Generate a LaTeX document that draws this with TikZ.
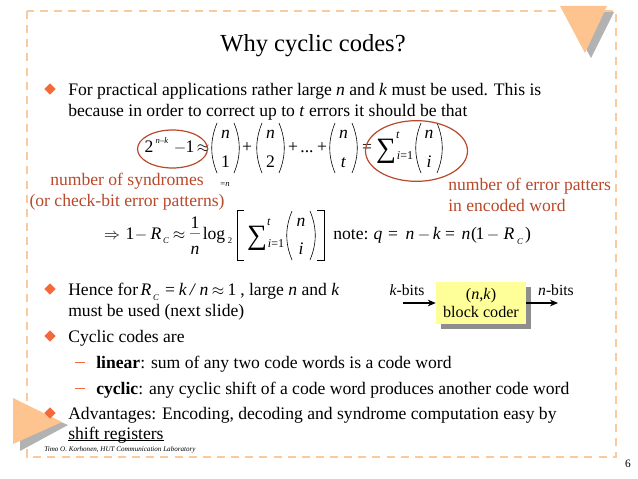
\documentclass[tikz,border=0pt]{standalone}
\usepackage{fontspec}
\setmainfont{Liberation Serif}
\usetikzlibrary{shapes.geometric,arrows.meta}
\definecolor{framecol}{HTML}{FBC99B}
\definecolor{tricol}{HTML}{FDC48F}
\definecolor{shadecol}{HTML}{B2B2B2}
\definecolor{bulletcol}{HTML}{F4683A}
\definecolor{notecol}{HTML}{B8492B}
\definecolor{boxcol}{HTML}{FFFF99}
\tikzset{
  body/.style={anchor=base west,inner sep=0pt,font=\fontsize{13.2pt}{15pt}\selectfont},
  note/.style={body,text=notecol},
  sym/.style={anchor=base,inner sep=0pt,font=\fontsize{13.2pt}{15pt}\selectfont},
  small/.style={anchor=base,inner sep=0pt,font=\fontsize{6.5pt}{8pt}\selectfont},
  mid/.style={anchor=base,inner sep=0pt,font=\fontsize{9pt}{10pt}\selectfont},
  big/.style={anchor=base,inner sep=0pt,font=\fontsize{21pt}{24pt}\selectfont},
  bullet/.style={diamond,fill=bulletcol,inner sep=0pt,minimum size=8.5pt},
  ring/.style={ellipse,draw=notecol,line width=0.9pt,inner sep=0pt},
  flow/.style={-{Stealth[length=6pt,width=5pt]},line width=0.8pt},
  paren/.style={line width=0.45pt}
}
% binomial: name, left x, right x, top y, bottom y, upper, lower
\newcommand{\binomat}[7]{%
  \draw[paren] (#2+5,#4) .. controls (#2-2,#4+17) and (#2-2,#5-17) .. (#2+5,#5);
  \draw[paren] (#3-5,#4) .. controls (#3+2,#4+17) and (#3+2,#5-17) .. (#3-5,#5);
  \node[sym] (#1u) at ({(#2+#3)/2},#4+15) {\textit{#6}};
  \node[sym] (#1l) at ({(#2+#3)/2},#5-6) {#7};
}
\begin{document}
\begin{tikzpicture}[x=0.75pt,y=-0.75pt]
  \useasboundingbox (0,0) rectangle (638,478);
  \fill[white] (0,0) rectangle (638,478);

  % frame and corners
  \draw[framecol,line width=0.9pt,dash pattern=on 6pt off 4.6pt] (27,11) rectangle (616,457);
  \fill[shadecol] (566,12) -- (614,12) -- (591,58) -- cycle;
  \fill[tricol] (560,6) -- (607,6) -- (585,53) -- cycle;
  \fill[shadecol] (20,405) -- (68,425) -- (20,451) -- cycle;
  \fill[tricol] (13,398) -- (62,422) -- (13,444) -- cycle;

  \node[anchor=base,inner sep=0pt,font=\fontsize{18.4pt}{21pt}\selectfont] (title) at (313,52) {Why cyclic codes?};

  % bullets
  \foreach \name/\y in {bulA/89,bulB/289,bulC/336,bulD/413}
    \node[bullet] (\name) at (50,\y) {};
  \foreach \name/\y in {dashA/362,dashB/388}
    \node[fill=bulletcol,minimum width=7.5pt,minimum height=0.6pt,inner sep=0pt] (\name) at (80,\y) {};

  % text
  \node[body] (lineA) at (68,95) {For practical applications rather large \textit{n} and \textit{k} must be used. This is};
  \node[body] (lineB) at (68,116) {because in order to correct up to \textit{t} errors it should be that};
  \node[body] (lineC) at (68,295) {Hence for};
  \node[body] (lineD) at (240,295) {, large \textit{n} and \textit{k}};
  \node[body] (lineE) at (68,316) {must be used (next slide)};
  \node[body] (lineF) at (68,342) {Cyclic codes are};
  \node[body] (lineG) at (96,368) {\textbf{linear}: sum of any two code words is a code word};
  \node[body] (lineH) at (96,394) {\textbf{cyclic}: any cyclic shift of a code word produces another code word};
  \node[body] (lineI) at (68,419) {Advantages: Encoding, decoding and syndrome computation easy by};
  \node[body] (lineJ) at (68,439) {shift registers};
  \draw[line width=0.6pt] ([yshift=-1.3pt]lineJ.base west) -- ([yshift=-1.3pt]lineJ.base east);
  \node[anchor=base west,inner sep=0pt,font=\fontsize{5.3pt}{7pt}\itshape] (foot) at (44,451) {Timo O. Korhonen, HUT Communication Laboratory};
  \node[anchor=base,inner sep=0pt,font=\fontsize{8.5pt}{10pt}\selectfont] (page) at (628,467) {6};

  % R_C inside the third bullet
  \foreach \name/\x/\txt in {hR/146/\textit{R},hEq/170/=,hK/183/\textit{k},hS/193/\textit{/},hN/204/\textit{n},hA/218/$\approx$,hO/232/1}
    \node[sym] (\name) at (\x,295) {\txt};
  \node[small] (hC) at (156,300) {\textit{C}};

  % first formula
  \node[sym] (two) at (149,152) {2};
  \node[small] (expo) at (162,143) {\textit{n--k}};
  \node[sym] (minus) at (180,152) {$-$};
  \node[sym] (oneA) at (190,152) {1};
  \node[sym] (approx) at (203,152) {$\approx$};
  \binomat{bA}{212}{239}{123}{173}{n}{1}
  \node[sym] (plusA) at (247,152) {+};
  \binomat{bB}{257}{284}{123}{173}{n}{2}
  \node[sym] (plusB) at (293,152) {+};
  \node[sym] (dots) at (307,152) {...};
  \node[sym] (plusC) at (322,152) {+};
  \binomat{bC}{330}{357}{123}{173}{n}{\textit{t}}
  \node[sym] (eq) at (367,152) {=};
  \node[big] (sumA) at (386,157) {∑};
  \node[mid] (sumAt) at (398,138) {\textit{t}};
  \node[mid] (sumAi) at (405,159) {\textit{i}=1};
  \binomat{bD}{416}{442}{123}{173}{n}{\textit{i}}
  \node[small] (eqn) at (225,186) {=\textit{n}};
  \node[ring,minimum width=52.5pt,minimum height=28.5pt] (ringA) at (172.5,149) {};
  \node[ring,minimum width=76.5pt,minimum height=45.5pt] (ringB) at (416.5,151) {};

  % notes
  \node[note,anchor=base] (noteA) at (127,185) {number of syndromes};
  \node[note,anchor=base] (noteB) at (127,206) {(or check-bit error patterns)};
  \node[note] (noteC) at (448,190) {number of error patters};
  \node[note] (noteD) at (448,211) {in encoded word};

  % second formula
  \node[sym] (impl) at (112,239) {$\Rightarrow$};
  \node[sym] (oneB) at (130,239) {1};
  \node[sym] (minusB) at (141,239) {$-$};
  \node[sym] (rc) at (156,239) {\textit{R}};
  \node[small] (rcs) at (166,243) {\textit{C}};
  \node[sym] (approxB) at (179,239) {$\approx$};
  \node[sym] (one) at (195,228) {1};
  \node[sym] (enn) at (195,254) {\textit{n}};
  \draw[line width=0.5pt,gray] (190,233) -- (200,233);
  \node[sym] (log) at (214,239) {log};
  \node[small] (logs) at (230,243) {2};
  \draw[line width=0.5pt] (244,210) -- (237,210) -- (237,260) -- (244,260);
  \node[big] (sumB) at (257,244) {∑};
  \node[mid] (sumBt) at (269,225) {\textit{t}};
  \node[mid] (sumBi) at (276,247) {\textit{i}=1};
  \binomat{bE}{287}{315}{211}{260}{n}{\textit{i}}
  \draw[line width=0.5pt] (317,210) -- (324,210) -- (324,260) -- (317,260);
  \node[body] (noteq) at (333,239) {note:};
  \foreach \name/\x/\txt in {qA/378/\textit{q},qB/393/=,qC/410/\textit{n},qD/424/$-$,qE/437/\textit{k},qF/450/=,qG/466/\textit{n},qH/474/(,qI/480/1,qJ/493/$-$,qK/509/\textit{R},qL/528/)}
    \node[sym] (\name) at (\x,239) {\txt};
  \node[small] (qM) at (520,244) {\textit{C}};

  % block coder
  \node[fill=shadecol!80!black,minimum width=67.5pt,minimum height=31.5pt,inner sep=0pt] (shade) at (486,308) {};
  \node[fill=boxcol,minimum width=67.5pt,minimum height=31.5pt,inner sep=0pt,align=center,
    font=\fontsize{12.1pt}{13pt}\selectfont] (coder) at (481,303) {(\textit{n},\textit{k})\\block coder};
  \node[body,anchor=base,font=\fontsize{11.7pt}{15pt}\selectfont] (kbits) at (407,295) {\textit{k}-bits};
  \node[body,anchor=base,font=\fontsize{11.7pt}{15pt}\selectfont] (nbits) at (556,295) {\textit{n}-bits};
  \coordinate (kin) at (403,303);
  \coordinate (nout) at (558,303);
  \draw[flow] (kin) -- (coder);
  \draw[flow] (coder) -- (nout);
\end{tikzpicture}
\end{document}
